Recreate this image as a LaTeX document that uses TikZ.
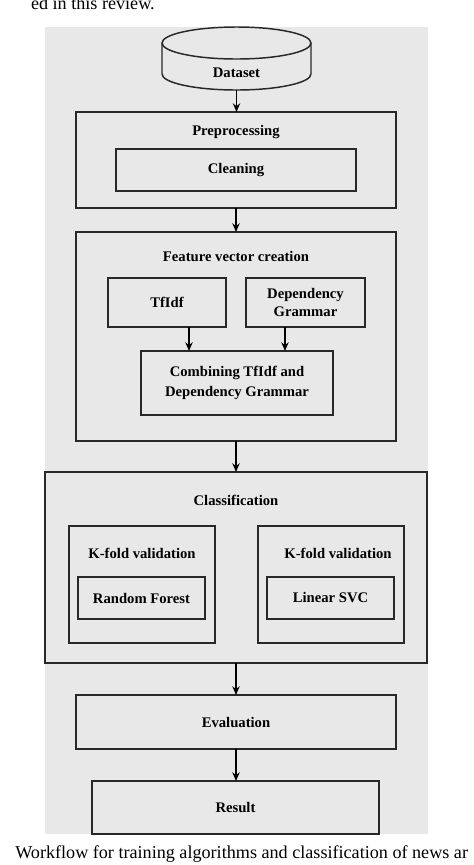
\documentclass[tikz,border=0pt]{standalone}
\usepackage{fontspec}
\setmainfont{Liberation Serif}
\usetikzlibrary{arrows.meta,calc}
\definecolor{bggrey}{RGB}{232,232,232}
\definecolor{linec}{RGB}{40,40,40}
\tikzset{
  box/.style={draw=linec, line width=1.1pt, fill=bggrey, inner sep=0pt, outer sep=0pt,
    align=center, font=\fontsize{11}{14}\selectfont\bfseries},
  ttl/.style={inner sep=0pt, font=\fontsize{11}{14}\selectfont\bfseries},
  arr/.style={draw=black, line width=1.1pt, -{Stealth[length=6.5pt,width=5.5pt]}},
}
\begin{document}
\begin{tikzpicture}[x=0.75pt,y=-0.75pt]
\useasboundingbox (0,0) rectangle (474,865);
\clip (0,0) rectangle (474,865);
\fill[white] (0,0) rectangle (474,865);
% background panel
\fill[bggrey] (45,27) rectangle (428,834);
% caption fragments
\node[anchor=base east, inner sep=0pt, font=\fontsize{13.6}{16}\selectfont] (toptext) at (155,9) {ed in this review.};
\node[anchor=base west, inner sep=0pt, font=\fontsize{13.6}{16}\selectfont] (caption) at (15,858) {Workflow for training algorithms and classification of news ar};
% dataset cylinder
\draw[linec, line width=1.1pt, fill=bggrey] (162,43) -- (162,74) arc[start angle=180,end angle=0,x radius=74.5,y radius=16] -- (311,43);
\draw[linec, line width=1.1pt, fill=bggrey] (236.5,43) ellipse [x radius=74.5, y radius=16];
\node[ttl] (data) at (236.5,73) {Dataset};
\coordinate (databot) at (236.5,90);
% preprocessing
\node[box, minimum width=240pt, minimum height=72pt] (pre) at (236,160) {};
\node[ttl] (pretitle) at (236,132) {Preprocessing};
\node[box, minimum width=180pt, minimum height=31.5pt] (clean) at (236,170) {Cleaning};
% feature vector creation
\node[box, minimum width=240pt, minimum height=156.75pt] (feat) at (236,336.5) {};
\node[ttl] (feattitle) at (236,256) {Feature vector creation};
\node[box, minimum width=88.5pt, minimum height=36.75pt] (tfidf) at (167,302.5) {TfIdf};
\node[box, minimum width=89.25pt, minimum height=36.75pt, font=\fontsize{11}{13.5}\selectfont\bfseries] (dep) at (305.5,302.5) {Dependency\\Grammar};
\node[box, minimum width=144pt, minimum height=48pt, font=\fontsize{11}{15}\selectfont\bfseries] (comb) at (237,383) {Combining TfIdf and\\Dependency Grammar};
\draw[arr] ([xshift=16.5pt]tfidf.south) -- ([xshift=16.5pt]tfidf.south |- comb.north);
\draw[arr] ([xshift=-15.4pt]dep.south) -- ([xshift=-15.4pt]dep.south |- comb.north);
% classification
\node[box, minimum width=286.5pt, minimum height=143.25pt] (cls) at (236,567.5) {};
\node[ttl] (clstitle) at (236,500) {Classification};
\node[box, minimum width=109.5pt, minimum height=87.75pt] (kl) at (142,584.5) {};
\node[box, minimum width=109.5pt, minimum height=87.75pt] (kr) at (331,584.5) {};
\node[ttl] (kltitle) at (142,553) {K-fold validation};
\node[ttl] (krtitle) at (338,553) {K-fold validation};
\node[box, minimum width=95.25pt, minimum height=31.5pt] (rf) at (141.5,598) {Random Forest};
\node[box, minimum width=95.25pt, minimum height=31.5pt] (svc) at (330.5,598) {Linear SVC};
% evaluation and result
\node[box, minimum width=240pt, minimum height=40.5pt] (eval) at (236,722) {Evaluation};
\node[box, minimum width=215.25pt, minimum height=39.75pt] (res) at (235.5,807.5) {Result};
% main flow
\draw[arr] (databot) -- (databot |- pre.north);
\draw[arr] (pre.south) -- (feat.north);
\draw[arr] (feat.south) -- (feat.south |- cls.north);
\draw[arr] (cls.south) -- (eval.north);
\draw[arr] (eval.south) -- (eval.south |- res.north);
\end{tikzpicture}
\end{document}
